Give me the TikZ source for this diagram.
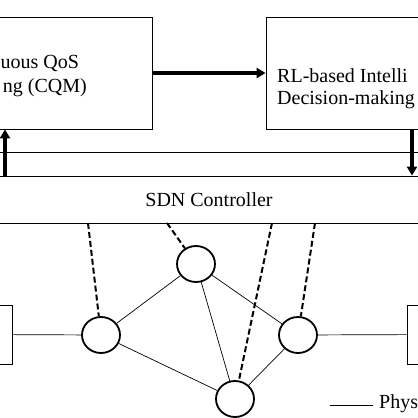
\documentclass[tikz,border=0pt]{standalone}
\usepackage{fontspec}
\setmainfont{Liberation Serif}
\usetikzlibrary{positioning,shapes.geometric,arrows.meta}

\begin{document}
\begin{tikzpicture}[x=1pt,y=-1pt,
                    box/.style={draw,line width=0.8pt,inner sep=0pt},
                    switch node/.style={ellipse,draw,line width=1.8pt,minimum width=38pt,minimum height=36pt,inner sep=0pt},
                    label text/.style={font=\fontsize{20}{24}\selectfont,inner sep=0pt},
                    big arrow/.style={line width=3.2pt,-{Triangle[width=10pt,length=9pt]}},
                    ctrl link/.style={line width=2pt,dash pattern=on 6pt off 3pt},
                    phys link/.style={line width=0.7pt}]
	\useasboundingbox (0,0) rectangle (418,418);
	\clip (0,0) rectangle (418,418);

	% upper modules
	\node[box,minimum width=292pt,minimum height=112pt] (cqm) at (6,73) {};
	\node[box,minimum width=294pt,minimum height=112pt] (rl) at (413,73) {};
	\node[label text,anchor=base west] (cqm1) at (0.5,68) {uous QoS};
	\node[label text,anchor=base east] (cqm2) at (87,92) {ng (CQM)};
	\node[label text,anchor=base west] (rl1) at (277,82) {RL-based Intelli};
	\node[label text,anchor=base west] (rl2) at (277,104) {Decision-making};

	% controller
	\node[box,minimum width=440pt,minimum height=24pt] (band) at (209,164) {};
	\node[box,label text,minimum width=440pt,minimum height=47pt] (sdn) at (209,199.5) {SDN Controller};

	% data plane
	\node[switch node] (A) at (101,335) {};
	\node[switch node] (B) at (196,264) {};
	\node[switch node] (C) at (298,335) {};
	\node[switch node] (D) at (235,399) {};
	\node[box,minimum width=62pt,minimum height=59pt] (h1) at (-19,334.5) {};
	\node[box,minimum width=62pt,minimum height=59pt] (h2) at (438,334.5) {};

	\coordinate (s1) at (88,223);
	\coordinate (s2) at (167,223);
	\coordinate (s3) at (272,223);
	\coordinate (s4) at (315,223);
	\coordinate (up) at (5,0);
	\coordinate (down) at (412,0);

	\draw[big arrow] (cqm) -- (rl);
	\draw[big arrow] (sdn.north -| up) -- (cqm.south -| up);
	\draw[big arrow] (rl.south -| down) -- (sdn.north -| down);

	\path[ctrl link]
		(s1) edge (A)
		(s2) edge (B)
		(s3) edge (D)
		(s4) edge (C);

	\path[phys link]
		(h1) edge (A)
		(A)  edge (B)
		     edge (D)
		(B)  edge (C)
		     edge (D)
		(C)  edge (D)
		     edge (h2);

	% legend
	\coordinate (leg start) at (330,405);
	\coordinate (leg end) at (373,405);
	\draw[phys link] (leg start) -- (leg end);
	\node[label text,anchor=base west] (legend) at (379,408) {Phys};
\end{tikzpicture}
\end{document}
